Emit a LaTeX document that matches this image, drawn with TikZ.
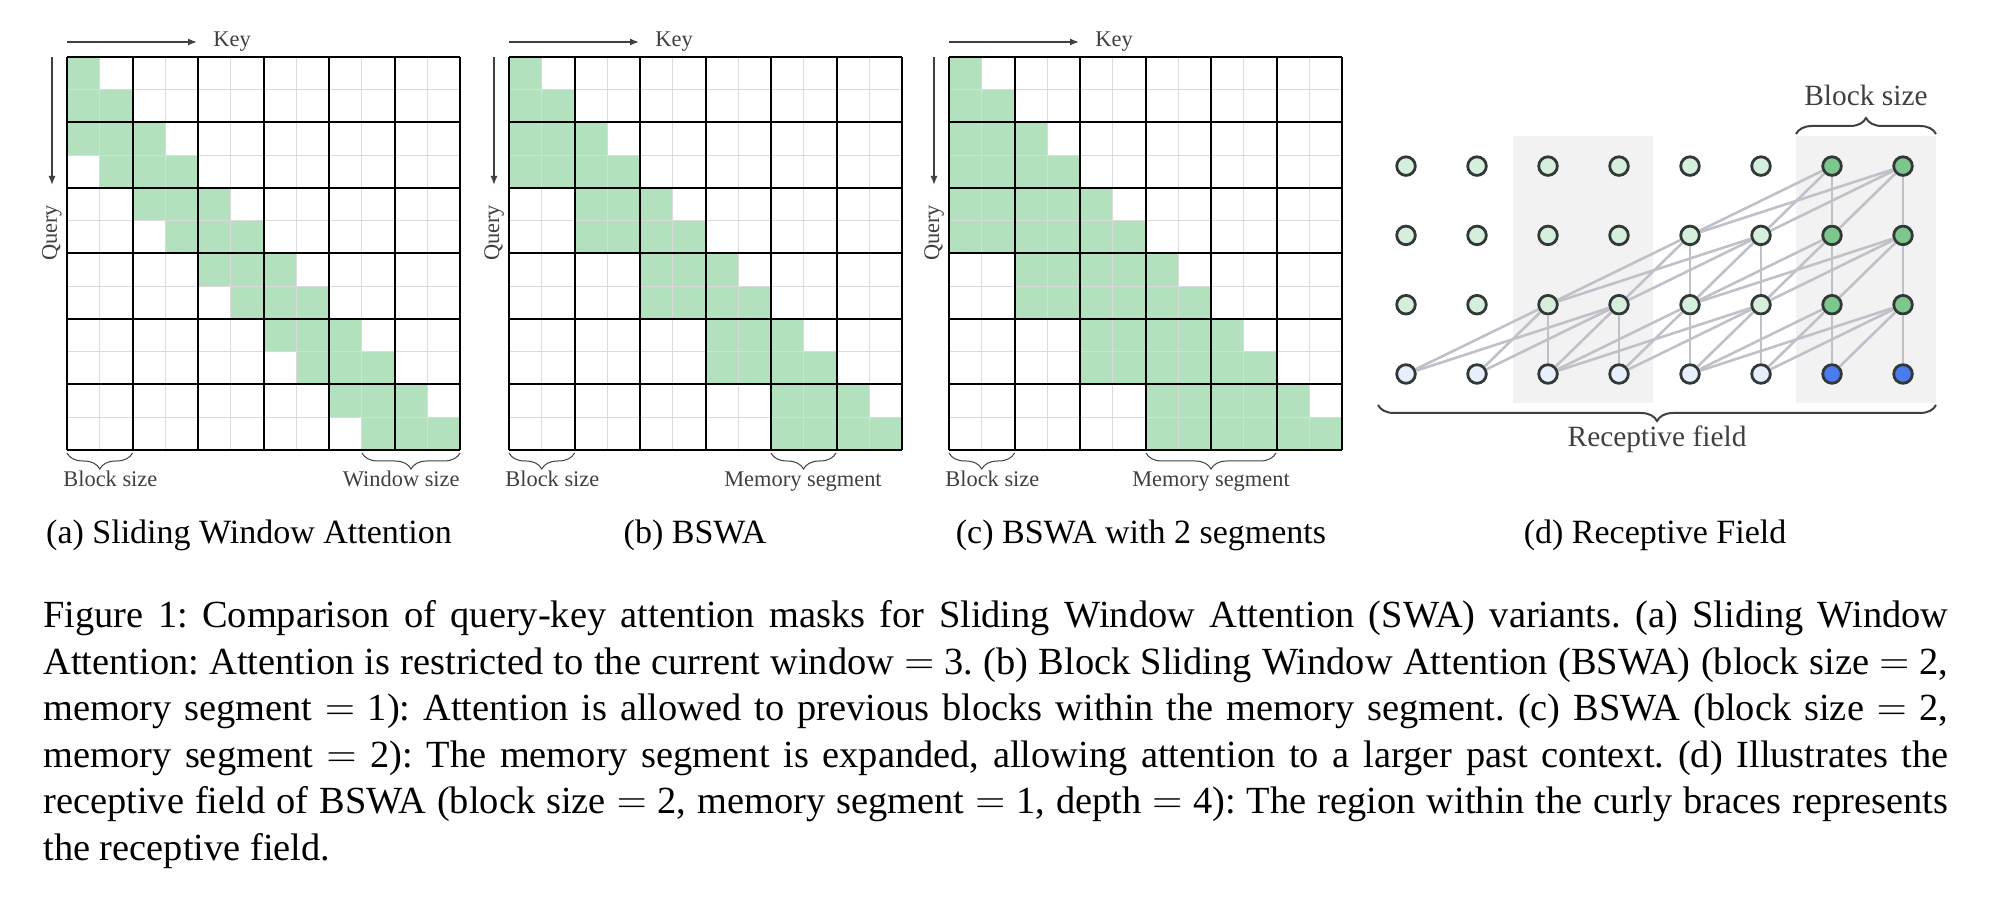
\documentclass[tikz,border=0pt]{standalone}
\usepackage{fontspec}
\setmainfont{Liberation Serif}
\usetikzlibrary{positioning,arrows.meta,decorations.pathreplacing}

\definecolor{maskgreen}{RGB}{179,224,189}
\definecolor{gridgray}{RGB}{218,218,218}
\definecolor{labelgray}{RGB}{64,64,64}
\definecolor{linkgray}{RGB}{192,193,200}
\definecolor{shadegray}{RGB}{242,242,242}
\definecolor{nodegreen}{RGB}{214,239,220}
\definecolor{actgreen}{RGB}{125,198,141}
\definecolor{inblue}{RGB}{230,240,252}
\definecolor{actblue}{RGB}{74,124,240}
\definecolor{ringgray}{RGB}{50,55,55}

\newcommand{\cellw}{32.75}

\tikzset{
	lbl/.style={text=labelgray, inner sep=0pt, font=\fontsize{11.2}{13}\selectfont},
	lbld/.style={text=labelgray, inner sep=0pt, font=\fontsize{14.7}{17}\selectfont},
	subcap/.style={inner sep=0pt, font=\fontsize{17}{20}\selectfont},
	capt/.style={inner sep=0pt, text width=952.5pt, align=justify,
		font=\fontsize{19.2}{23.3}\selectfont},
	axis/.style={labelgray, line width=0.7pt, -{Latex[length=4.5pt,width=3.5pt]}},
	brc/.style={labelgray, line width=0.5pt, decorate,
		decoration={brace, amplitude=8pt}},
	brcd/.style={labelgray, line width=1pt, decorate,
		decoration={brace, amplitude=8pt}},
	minorline/.style={gridgray, line width=0.7pt},
	majorline/.style={black, line width=1pt},
	tok/.style={circle, draw=ringgray, line width=1.4pt, minimum size=9.3pt, inner sep=0pt},
	link/.style={linkgray, line width=1.3pt},
}

% one 12x12 mask: name, left edge, first key seen by query row \i
\newcommand{\maskgrid}[3]{%
	\begin{scope}[shift={(#2,57)}]
		\foreach \i in {0,...,11}{
			\pgfmathtruncatemacro{\lo}{max(0,#3)}
			\foreach \j in {\lo,...,\i}
			\fill[maskgreen] (\j*\cellw,\i*\cellw) rectangle ++(\cellw,\cellw);
		}
		\foreach \k in {1,3,...,11}
		\draw[minorline] (\k*\cellw,0) -- (\k*\cellw,12*\cellw)
		(0,\k*\cellw) -- (12*\cellw,\k*\cellw);
		\foreach \k in {0,2,...,12}
		\draw[majorline] (\k*\cellw,0) -- (\k*\cellw,12*\cellw)
		(0,\k*\cellw) -- (12*\cellw,\k*\cellw);
		
		\coordinate (#1-k0) at (0,-15);
		\coordinate (#1-k1) at (130,-15);
		\draw[axis] (#1-k0) -- (#1-k1);
		\node[lbl, right=8pt of #1-k1] (#1-key) {Key};
		
		\coordinate (#1-q0) at (-15,0);
		\coordinate (#1-q1) at (-15,128);
		\draw[axis] (#1-q0) -- (#1-q1);
		\node[lbl, rotate=90] (#1-query) at (-15,176) {Query};
		
		\coordinate (#1-b0) at (0,396);
		\coordinate (#1-b1) at (2*\cellw,396);
		\draw[brc] (#1-b1) -- (#1-b0);
		\node[lbl, anchor=base west] (#1-block) at (-4,430) {Block size};
	\end{scope}}

\begin{document}
\frenchspacing
\begin{tikzpicture}[x=0.5pt, y=-0.5pt]
	\useasboundingbox (0,0) rectangle (2000,908);
	
	% (a) sliding window, (b) BSWA, (c) BSWA with 2 segments
	\maskgrid{a}{67}{\i-2}
	\maskgrid{b}{509}{2*int(\i/2)-2}
	\maskgrid{c}{949}{2*int(\i/2)-4}
	
	\coordinate (a-w0) at (362,453);
	\coordinate (a-w1) at (460,453);
	\draw[brc] (a-w1) -- (a-w0);
	\node[lbl, anchor=base east] (a-window) at (460,487) {Window size};
	
	\coordinate (b-m0) at (771,453);
	\coordinate (b-m1) at (836,453);
	\draw[brc] (b-m1) -- (b-m0);
	\node[lbl, anchor=base] (b-memory) at (803,487) {Memory segment};
	
	\coordinate (c-m0) at (1146,453);
	\coordinate (c-m1) at (1276,453);
	\draw[brc] (c-m1) -- (c-m0);
	\node[lbl, anchor=base] (c-memory) at (1211,487) {Memory segment};
	
	% (d) receptive field
	\fill[shadegray] (1513,136) rectangle (1653,403);
	\fill[shadegray] (1796,136) rectangle (1936,403);
	
	\foreach \c in {0,...,5} \node[tok, fill=inblue] (t0-\c) at (1406+71*\c,374) {};
	\foreach \c in {6,7} \node[tok, fill=actblue] (t0-\c) at (1406+71*\c,374) {};
	\foreach \r in {1,2,3}{
		\foreach \c in {0,...,5} \node[tok, fill=nodegreen] (t\r-\c) at (1406+71*\c,374-69.3*\r) {};
		\foreach \c in {6,7} \node[tok, fill=actgreen] (t\r-\c) at (1406+71*\c,374-69.3*\r) {};
	}
	
	% token \u of layer \r sees layer \r-1 back to the previous block
	\foreach \r/\first in {1/2,2/4,3/6}{
		\pgfmathtruncatemacro{\prevr}{\r-1}
		\foreach \u in {\first,...,7}{
			\pgfmathtruncatemacro{\lo}{2*int(\u/2)-2}
			\foreach \l in {\lo,...,\u}
			\draw[link] (t\r-\u) -- (t\prevr-\l);
		}
	}
	
	\coordinate (d-b0) at (1796,134);
	\coordinate (d-b1) at (1936,134);
	\draw[brcd] (d-b0) -- (d-b1);
	\node[lbld, anchor=base] (d-block) at (1866,106) {Block size};
	
	\coordinate (d-r0) at (1378,405);
	\coordinate (d-r1) at (1936,405);
	\draw[brcd] (d-r1) -- (d-r0);
	\node[lbld, anchor=base] (d-field) at (1657,447) {Receptive field};
	
	% sub-captions and caption
	\node[subcap, anchor=base] (cap-a) at (249,543) {(a) Sliding Window Attention};
	\node[subcap, anchor=base] (cap-b) at (695,543) {(b) BSWA};
	\node[subcap, anchor=base] (cap-c) at (1141,543) {(c) BSWA with 2 segments};
	\node[subcap, anchor=base] (cap-d) at (1655,543) {(d) Receptive Field};
	
	\node[capt, anchor=north west] (caption) at (43,600) {Figure 1: Comparison of query-key attention masks for Sliding Window Attention (SWA) variants. (a) Sliding Window\linebreak
		Attention: Attention is restricted to the current window $=$ 3. (b) Block Sliding Window Attention (BSWA) (block size $=$ 2,\linebreak
		memory segment $=$ 1): Attention is allowed to previous blocks within the memory segment. (c) BSWA (block size $=$ 2,\linebreak
		memory segment $=$ 2): The memory segment is expanded, allowing attention to a larger past context. (d) Illustrates the\linebreak
		receptive field of BSWA (block size $=$ 2, memory segment $=$ 1, depth $=$ 4): The region within the curly braces represents\linebreak
		the receptive field.};
\end{tikzpicture}
\end{document}
